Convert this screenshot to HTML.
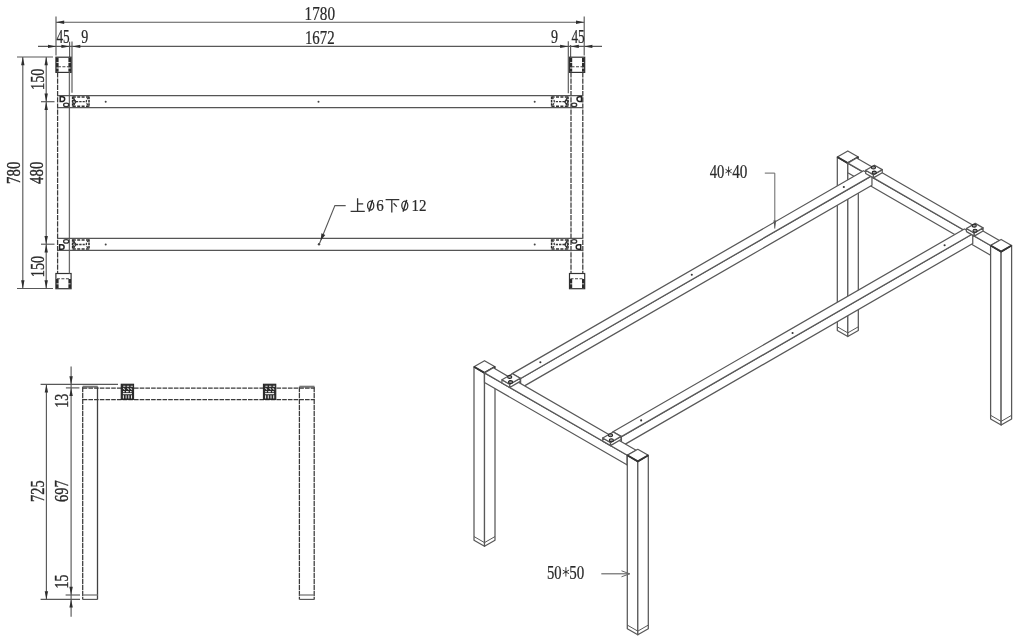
<!DOCTYPE html>
<html><head><meta charset="utf-8"><style>
html,body{margin:0;padding:0;background:#fff;}
svg{display:block;will-change:transform;}
</style></head><body>
<svg width="1020" height="642" viewBox="0 0 1020 642">
<rect width="1020" height="642" fill="#fff"/>
<line x1="56" y1="16.5" x2="56" y2="55.5" stroke="#585858" stroke-width="1.15"/>
<line x1="584.2" y1="16.5" x2="584.2" y2="55.5" stroke="#585858" stroke-width="1.15"/>
<line x1="69.6" y1="41.7" x2="69.6" y2="57" stroke="#585858" stroke-width="1.15"/>
<line x1="72" y1="41.5" x2="72" y2="92.8" stroke="#585858" stroke-width="1.15"/>
<line x1="568.3" y1="41.3" x2="568.3" y2="93.3" stroke="#585858" stroke-width="1.15"/>
<line x1="570.6" y1="45" x2="570.6" y2="57" stroke="#585858" stroke-width="1.15"/>
<line x1="56" y1="22.2" x2="584.2" y2="22.2" stroke="#585858" stroke-width="1.15"/>
<polygon points="56,22.2 64.2,20.5 64.2,23.9" fill="#2e2e2e"/>
<polygon points="584.2,22.2 576,23.9 576,20.5" fill="#2e2e2e"/>
<line x1="38" y1="46.4" x2="602" y2="46.4" stroke="#585858" stroke-width="1.15"/>
<polygon points="56.2,46.4 48,48.1 48,44.7" fill="#2e2e2e"/>
<polygon points="69.6,46.4 61.4,48.1 61.4,44.7" fill="#2e2e2e"/>
<polygon points="72.1,46.4 80.3,44.7 80.3,48.1" fill="#2e2e2e"/>
<polygon points="568.3,46.4 560.1,48.1 560.1,44.7" fill="#2e2e2e"/>
<polygon points="570.6,46.4 578.8,44.7 578.8,48.1" fill="#2e2e2e"/>
<polygon points="584.2,46.4 592.4,44.7 592.4,48.1" fill="#2e2e2e"/>
<text x="304.6" y="19.9" font-family="Liberation Serif" font-size="19" fill="#2a2a2a" stroke="#2a2a2a" stroke-width="0.22" textLength="30.4" lengthAdjust="spacingAndGlyphs">1780</text>
<text x="304.9" y="44.1" font-family="Liberation Serif" font-size="19" fill="#2a2a2a" stroke="#2a2a2a" stroke-width="0.22" textLength="29.8" lengthAdjust="spacingAndGlyphs">1672</text>
<text x="56.4" y="43.2" font-family="Liberation Serif" font-size="19" fill="#2a2a2a" stroke="#2a2a2a" stroke-width="0.22" textLength="13.2" lengthAdjust="spacingAndGlyphs">45</text>
<text x="81.3" y="43.2" font-family="Liberation Serif" font-size="19" fill="#2a2a2a" stroke="#2a2a2a" stroke-width="0.22" textLength="7" lengthAdjust="spacingAndGlyphs">9</text>
<text x="551" y="43.3" font-family="Liberation Serif" font-size="19" fill="#2a2a2a" stroke="#2a2a2a" stroke-width="0.22" textLength="7" lengthAdjust="spacingAndGlyphs">9</text>
<text x="571.4" y="43.3" font-family="Liberation Serif" font-size="19" fill="#2a2a2a" stroke="#2a2a2a" stroke-width="0.22" textLength="13.2" lengthAdjust="spacingAndGlyphs">45</text>
<line x1="17" y1="57" x2="53" y2="57" stroke="#585858" stroke-width="1.15"/>
<line x1="17" y1="288.5" x2="53" y2="288.5" stroke="#585858" stroke-width="1.15"/>
<line x1="41" y1="101.7" x2="54.5" y2="101.7" stroke="#585858" stroke-width="1.15"/>
<line x1="41" y1="244.2" x2="54.5" y2="244.2" stroke="#585858" stroke-width="1.15"/>
<line x1="22.8" y1="57" x2="22.8" y2="288.5" stroke="#585858" stroke-width="1.15"/>
<polygon points="22.8,57 24.5,65.2 21.1,65.2" fill="#2e2e2e"/>
<polygon points="22.8,288.5 21.1,280.3 24.5,280.3" fill="#2e2e2e"/>
<line x1="46.2" y1="57" x2="46.2" y2="288.5" stroke="#585858" stroke-width="1.15"/>
<polygon points="46.2,57 47.9,65.2 44.5,65.2" fill="#2e2e2e"/>
<polygon points="46.2,101.7 44.5,93.5 47.9,93.5" fill="#2e2e2e"/>
<polygon points="46.2,101.7 47.9,109.9 44.5,109.9" fill="#2e2e2e"/>
<polygon points="46.2,244.2 44.5,236 47.9,236" fill="#2e2e2e"/>
<polygon points="46.2,244.2 47.9,252.4 44.5,252.4" fill="#2e2e2e"/>
<polygon points="46.2,288.5 44.5,280.3 47.9,280.3" fill="#2e2e2e"/>
<g transform="translate(13.8 172.8) rotate(-90)"><text x="-11.1" y="6.47" font-family="Liberation Serif" font-size="19.6" fill="#2a2a2a" stroke="#2a2a2a" stroke-width="0.38" textLength="22.2" lengthAdjust="spacingAndGlyphs">780</text></g>
<g transform="translate(36.9 172.8) rotate(-90)"><text x="-11.1" y="6.47" font-family="Liberation Serif" font-size="19.6" fill="#2a2a2a" stroke="#2a2a2a" stroke-width="0.38" textLength="22.2" lengthAdjust="spacingAndGlyphs">480</text></g>
<g transform="translate(37.3 79.3) rotate(-90)"><text x="-10.65" y="6.47" font-family="Liberation Serif" font-size="19.6" fill="#2a2a2a" stroke="#2a2a2a" stroke-width="0.38" textLength="21.3" lengthAdjust="spacingAndGlyphs">150</text></g>
<g transform="translate(37.2 266.5) rotate(-90)"><text x="-10.65" y="6.47" font-family="Liberation Serif" font-size="19.6" fill="#2a2a2a" stroke="#2a2a2a" stroke-width="0.38" textLength="21.3" lengthAdjust="spacingAndGlyphs">150</text></g>
<rect x="55.9" y="57.2" width="15.2" height="15.2" fill="none" stroke="#333" stroke-width="1.2"/>
<path d="M57.3,57.8 V71.8 M69.7,57.8 V71.8" stroke="#2a2a2a" stroke-width="2.6" stroke-dasharray="4.4,0.9" fill="none"/>
<line x1="57.9" y1="66.7" x2="69.1" y2="66.7" stroke="#444" stroke-width="1.1" stroke-dasharray="3,1.5"/>
<rect x="55.9" y="273.5" width="15.2" height="15.2" fill="none" stroke="#333" stroke-width="1.2"/>
<path d="M57.3,279 V288.1 M69.7,279 V288.1" stroke="#2a2a2a" stroke-width="2.6" stroke-dasharray="4.4,0.9" fill="none"/>
<line x1="56.9" y1="278.7" x2="70.1" y2="278.7" stroke="#444" stroke-width="1.1" stroke-dasharray="3,1.5"/>
<rect x="569.5" y="57.2" width="15.2" height="15.2" fill="none" stroke="#333" stroke-width="1.2"/>
<path d="M570.9,57.8 V71.8 M583.3,57.8 V71.8" stroke="#2a2a2a" stroke-width="2.6" stroke-dasharray="4.4,0.9" fill="none"/>
<line x1="571.5" y1="66.7" x2="582.7" y2="66.7" stroke="#444" stroke-width="1.1" stroke-dasharray="3,1.5"/>
<rect x="569.5" y="273.5" width="15.2" height="15.2" fill="none" stroke="#333" stroke-width="1.2"/>
<path d="M570.9,279 V288.1 M583.3,279 V288.1" stroke="#2a2a2a" stroke-width="2.6" stroke-dasharray="4.4,0.9" fill="none"/>
<line x1="570.5" y1="278.7" x2="583.7" y2="278.7" stroke="#444" stroke-width="1.1" stroke-dasharray="3,1.5"/>
<line x1="57.6" y1="72.4" x2="57.6" y2="273.5" stroke="#3a3a3a" stroke-width="1.25" stroke-dasharray="5.2,1"/>
<line x1="571" y1="72.4" x2="571" y2="273.5" stroke="#3a3a3a" stroke-width="1.25" stroke-dasharray="5.2,1"/>
<line x1="582.8" y1="72.4" x2="582.8" y2="273.5" stroke="#3a3a3a" stroke-width="1.25" stroke-dasharray="5.2,1"/>
<line x1="69.4" y1="72.4" x2="69.4" y2="273.5" stroke="#6a6a6a" stroke-width="1.3"/>
<line x1="57.6" y1="95.6" x2="582.7" y2="95.6" stroke="#555" stroke-width="1.2"/>
<line x1="57.6" y1="107.6" x2="582.7" y2="107.6" stroke="#555" stroke-width="1.2"/>
<circle cx="105.7" cy="101.8" r="1" fill="#444"/>
<circle cx="534.7" cy="101.8" r="1" fill="#444"/>
<path d="M72.6,96.4 V107 M89,96.4 V107" stroke="#2a2a2a" stroke-width="1.5" stroke-dasharray="2.6,0.8" fill="none"/>
<path d="M72.8,97.1 H88.8 M72.8,106.2 H88.8" stroke="#333" stroke-width="1.5" stroke-dasharray="3,1.4" fill="none"/>
<path d="M72.8,97.4 Q77.3,101.7 72.8,106 M88.8,97.4 Q83.8,101.7 88.8,106 M75.8,101.7 H84.8" stroke="#3a3a3a" stroke-width="1.3" stroke-dasharray="2.4,1" fill="none"/>
<path d="M72.4,101.7 l1.8,-2.6 l1.8,2.6 l-1.8,2.6 z" fill="none" stroke="#333" stroke-width="1.1"/>
<path d="M568,96.4 V107 M551.6,96.4 V107" stroke="#2a2a2a" stroke-width="1.5" stroke-dasharray="2.6,0.8" fill="none"/>
<path d="M567.8,97.1 H551.8 M567.8,106.2 H551.8" stroke="#333" stroke-width="1.5" stroke-dasharray="3,1.4" fill="none"/>
<path d="M567.8,97.4 Q563.3,101.7 567.8,106 M551.8,97.4 Q556.8,101.7 551.8,106 M564.8,101.7 H555.8" stroke="#3a3a3a" stroke-width="1.3" stroke-dasharray="2.4,1" fill="none"/>
<path d="M564.6,101.7 l1.8,-2.6 l1.8,2.6 l-1.8,2.6 z" fill="none" stroke="#333" stroke-width="1.1"/>
<line x1="57.6" y1="238.4" x2="582.7" y2="238.4" stroke="#555" stroke-width="1.2"/>
<line x1="57.6" y1="250.4" x2="582.7" y2="250.4" stroke="#555" stroke-width="1.2"/>
<circle cx="105.7" cy="244.6" r="1" fill="#444"/>
<circle cx="534.7" cy="244.6" r="1" fill="#444"/>
<path d="M72.6,239.2 V249.8 M89,239.2 V249.8" stroke="#2a2a2a" stroke-width="1.5" stroke-dasharray="2.6,0.8" fill="none"/>
<path d="M72.8,239.9 H88.8 M72.8,249 H88.8" stroke="#333" stroke-width="1.5" stroke-dasharray="3,1.4" fill="none"/>
<path d="M72.8,240.2 Q77.3,244.5 72.8,248.8 M88.8,240.2 Q83.8,244.5 88.8,248.8 M75.8,244.5 H84.8" stroke="#3a3a3a" stroke-width="1.3" stroke-dasharray="2.4,1" fill="none"/>
<path d="M72.4,244.5 l1.8,-2.6 l1.8,2.6 l-1.8,2.6 z" fill="none" stroke="#333" stroke-width="1.1"/>
<path d="M568,239.2 V249.8 M551.6,239.2 V249.8" stroke="#2a2a2a" stroke-width="1.5" stroke-dasharray="2.6,0.8" fill="none"/>
<path d="M567.8,239.9 H551.8 M567.8,249 H551.8" stroke="#333" stroke-width="1.5" stroke-dasharray="3,1.4" fill="none"/>
<path d="M567.8,240.2 Q563.3,244.5 567.8,248.8 M551.8,240.2 Q556.8,244.5 551.8,248.8 M564.8,244.5 H555.8" stroke="#3a3a3a" stroke-width="1.3" stroke-dasharray="2.4,1" fill="none"/>
<path d="M564.6,244.5 l1.8,-2.6 l1.8,2.6 l-1.8,2.6 z" fill="none" stroke="#333" stroke-width="1.1"/>
<path d="M60.2,96.8 h2.2 a2.3,2.3 0 0 1 0,4.6 h-2.2 z" fill="none" stroke="#222" stroke-width="1.5"/>
<ellipse cx="66.2" cy="104.9" rx="2.6" ry="1.7" fill="none" stroke="#333" stroke-width="1.3"/>
<path d="M581.5,96.8 h-2.2 a2.3,2.3 0 0 0 0,4.6 h2.2 z" fill="none" stroke="#222" stroke-width="1.5"/>
<ellipse cx="574.1" cy="104.9" rx="2.6" ry="1.7" fill="none" stroke="#333" stroke-width="1.3"/>
<ellipse cx="66.2" cy="241.4" rx="2.6" ry="1.7" fill="none" stroke="#333" stroke-width="1.3"/>
<path d="M59.6,244.7 h2.2 a2.3,2.3 0 0 1 0,4.6 h-2.2 z" fill="none" stroke="#222" stroke-width="1.5"/>
<ellipse cx="574.1" cy="241.4" rx="2.6" ry="1.7" fill="none" stroke="#333" stroke-width="1.3"/>
<path d="M580.7,244.7 h-2.2 a2.3,2.3 0 0 0 0,4.6 h2.2 z" fill="none" stroke="#222" stroke-width="1.5"/>
<circle cx="318.5" cy="101.8" r="1" fill="#444"/>
<circle cx="319" cy="244.3" r="1.2" fill="#444"/>
<polyline points="319.2,244.2 334.9,205.6 345.7,205.6" fill="none" stroke="#585858" stroke-width="1.1"/>
<polygon points="320.7,240.6 321.39,233.33 325.28,234.91" fill="#2e2e2e"/>
<path d="M357.6,198.3 V211.3 M357.6,203.9 H363.2 M350.6,211.3 H364.8" fill="none" stroke="#333" stroke-width="1.3"/>
<path d="M385.6,199.6 H399.3 M391.8,199.6 V212.6 M393.6,203.2 L396.8,206.6" fill="none" stroke="#333" stroke-width="1.3"/>
<ellipse cx="370.7" cy="205.6" rx="3.1" ry="4.4" fill="none" stroke="#2a2a2a" stroke-width="1.25"/><path d="M369,211.6 L372.6,199.9" stroke="#2a2a2a" stroke-width="1.5"/>
<text x="376.3" y="210.8" font-family="Liberation Serif" font-size="16.6" fill="#2a2a2a" stroke="#2a2a2a" stroke-width="0.22" textLength="7.5" lengthAdjust="spacingAndGlyphs">6</text>
<ellipse cx="404.8" cy="205.6" rx="3.0" ry="4.4" fill="none" stroke="#2a2a2a" stroke-width="1.25"/><path d="M403.1,211.6 L406.7,199.9" stroke="#2a2a2a" stroke-width="1.5"/>
<text x="411.4" y="210.8" font-family="Liberation Serif" font-size="16.6" fill="#2a2a2a" stroke="#2a2a2a" stroke-width="0.22" textLength="15" lengthAdjust="spacingAndGlyphs">12</text>
<line x1="40.6" y1="384.4" x2="118" y2="384.4" stroke="#585858" stroke-width="1.15"/>
<line x1="65.9" y1="387.9" x2="79.4" y2="387.9" stroke="#585858" stroke-width="1.15"/>
<line x1="40.6" y1="599.4" x2="80" y2="599.4" stroke="#585858" stroke-width="1.15"/>
<line x1="65.6" y1="595" x2="80" y2="595" stroke="#585858" stroke-width="1.15"/>
<line x1="46.4" y1="384.4" x2="46.4" y2="599.4" stroke="#585858" stroke-width="1.15"/>
<polygon points="46.4,384.4 48.1,392.6 44.7,392.6" fill="#2e2e2e"/>
<polygon points="46.4,599.4 44.7,591.2 48.1,591.2" fill="#2e2e2e"/>
<line x1="71.1" y1="366.6" x2="71.1" y2="616.7" stroke="#585858" stroke-width="1.15"/>
<polygon points="71.1,384.4 69.4,376.2 72.8,376.2" fill="#2e2e2e"/>
<polygon points="71.1,387.9 72.8,396.1 69.4,396.1" fill="#2e2e2e"/>
<polygon points="71.1,595 69.4,586.8 72.8,586.8" fill="#2e2e2e"/>
<polygon points="71.1,599.4 72.8,607.6 69.4,607.6" fill="#2e2e2e"/>
<g transform="translate(62 400.8) rotate(-90)"><text x="-7" y="6.47" font-family="Liberation Serif" font-size="19.6" fill="#2a2a2a" stroke="#2a2a2a" stroke-width="0.38" textLength="14" lengthAdjust="spacingAndGlyphs">13</text></g>
<g transform="translate(37.1 491.2) rotate(-90)"><text x="-10.75" y="6.47" font-family="Liberation Serif" font-size="19.6" fill="#2a2a2a" stroke="#2a2a2a" stroke-width="0.38" textLength="21.5" lengthAdjust="spacingAndGlyphs">725</text></g>
<g transform="translate(62 491.2) rotate(-90)"><text x="-10.75" y="6.47" font-family="Liberation Serif" font-size="19.6" fill="#2a2a2a" stroke="#2a2a2a" stroke-width="0.38" textLength="21.5" lengthAdjust="spacingAndGlyphs">697</text></g>
<g transform="translate(62 581.5) rotate(-90)"><text x="-6.9" y="6.47" font-family="Liberation Serif" font-size="19.6" fill="#2a2a2a" stroke="#2a2a2a" stroke-width="0.38" textLength="13.8" lengthAdjust="spacingAndGlyphs">15</text></g>
<line x1="82.7" y1="386.7" x2="82.7" y2="599.4" stroke="#3a3a3a" stroke-width="1.25" stroke-dasharray="5.2,0.8"/>
<line x1="97.5" y1="386.7" x2="97.5" y2="599.4" stroke="#404040" stroke-width="1.3"/>
<line x1="82.7" y1="386.7" x2="97.7" y2="386.7" stroke="#777" stroke-width="2"/>
<line x1="82.7" y1="599.4" x2="97.7" y2="599.4" stroke="#585858" stroke-width="1.15"/>
<line x1="82.7" y1="595" x2="97.7" y2="595" stroke="#777" stroke-width="1.3"/>
<line x1="299.4" y1="386.7" x2="299.4" y2="599.4" stroke="#3a3a3a" stroke-width="1.25" stroke-dasharray="5.2,0.8"/>
<line x1="314.2" y1="386.7" x2="314.2" y2="599.4" stroke="#3a3a3a" stroke-width="1.25" stroke-dasharray="5.2,0.8"/>
<line x1="299.4" y1="386.7" x2="314.4" y2="386.7" stroke="#777" stroke-width="2"/>
<line x1="299.4" y1="599.4" x2="314.4" y2="599.4" stroke="#585858" stroke-width="1.15"/>
<line x1="299.4" y1="595" x2="314.4" y2="595" stroke="#777" stroke-width="1.3"/>
<line x1="82.7" y1="388.1" x2="314.4" y2="388.1" stroke="#3a3a3a" stroke-width="1.1" stroke-dasharray="4.6,1.1"/>
<line x1="82.7" y1="399.6" x2="314.4" y2="399.6" stroke="#3a3a3a" stroke-width="1.1" stroke-dasharray="4.6,1.1"/>
<rect x="121.2" y="384.2" width="12.4" height="15.2" fill="#2a2a2a" stroke="#222" stroke-width="1"/>
<path d="M123.2,386.3 h2.2 m1.4,0 h2.4 m1.4,0 h2.2 M123.2,388.2 l1.6,1.4 m2.6,-1.4 l1.6,1.4 m1.4,-1.4 l1.6,1.4 M123,391.6 h1.6 m1.4,0 h2.6 m1.4,0 h1.6 M122.9,393.6 h9 M123.4,395.2 v3.2 m2.7,-3.2 v3.2 m2.7,-3.2 v3.2 m2.7,-3.2 v3.2" stroke="#e8e8e8" stroke-width="1.05" fill="none"/>
<rect x="263.4" y="384.2" width="12.4" height="15.2" fill="#2a2a2a" stroke="#222" stroke-width="1"/>
<path d="M265.4,386.3 h2.2 m1.4,0 h2.4 m1.4,0 h2.2 M265.4,388.2 l1.6,1.4 m2.6,-1.4 l1.6,1.4 m1.4,-1.4 l1.6,1.4 M265.2,391.6 h1.6 m1.4,0 h2.6 m1.4,0 h1.6 M265.1,393.6 h9 M265.6,395.2 v3.2 m2.7,-3.2 v3.2 m2.7,-3.2 v3.2 m2.7,-3.2 v3.2" stroke="#e8e8e8" stroke-width="1.05" fill="none"/>
<polygon points="837.31,157.05 847.81,163.11 847.81,336.5 837.31,330.44" fill="#fff" stroke="#585858" stroke-width="1.25" stroke-linejoin="round"/>
<polygon points="847.81,163.11 858.31,157.05 858.31,330.44 847.81,336.5" fill="#fff" stroke="#585858" stroke-width="1.25" stroke-linejoin="round"/>
<polygon points="837.31,157.05 847.81,150.99 858.31,157.05 847.81,163.11" fill="#fff" stroke="#585858" stroke-width="1.25" stroke-linejoin="round"/>
<polyline points="837.31,326.8 847.81,332.86 858.31,326.8" fill="none" stroke="#585858" stroke-width="1"/>
<polyline points="837.31,157.05 847.81,163.11 858.31,157.05" fill="none" stroke="#333" stroke-width="1.8"/>
<polygon points="847.81,163.11 990.61,245.56 990.61,255.26 847.81,172.81" fill="#fff" stroke="#585858" stroke-width="1.25" stroke-linejoin="round"/>
<polygon points="990.61,245.56 999.43,240.47 999.43,250.17 990.61,255.26" fill="#fff" stroke="#585858" stroke-width="1.25" stroke-linejoin="round"/>
<polygon points="847.81,163.11 856.63,158.02 999.43,240.47 990.61,245.56" fill="#fff" stroke="#585858" stroke-width="1.25" stroke-linejoin="round"/>
<polygon points="512.22,373.6 520.62,378.45 520.62,388.15 512.22,383.3" fill="#fff" stroke="#585858" stroke-width="1.25" stroke-linejoin="round"/>
<polygon points="520.62,378.45 871.96,175.6 871.96,185.3 520.62,388.15" fill="#fff" stroke="#585858" stroke-width="1.25" stroke-linejoin="round"/>
<polygon points="512.22,373.6 863.56,170.75 871.96,175.6 520.62,378.45" fill="#fff" stroke="#585858" stroke-width="1.25" stroke-linejoin="round"/>
<polygon points="990.61,245.56 1001.11,251.63 1001.11,425.01 990.61,418.95" fill="#fff" stroke="#585858" stroke-width="1.25" stroke-linejoin="round"/>
<polygon points="1001.11,251.63 1011.61,245.56 1011.61,418.95 1001.11,425.01" fill="#fff" stroke="#585858" stroke-width="1.25" stroke-linejoin="round"/>
<polygon points="990.61,245.56 1001.11,239.5 1011.61,245.56 1001.11,251.63" fill="#fff" stroke="#585858" stroke-width="1.25" stroke-linejoin="round"/>
<polyline points="990.61,415.31 1001.11,421.38 1011.61,415.31" fill="none" stroke="#585858" stroke-width="1"/>
<polyline points="990.61,245.56 1001.11,251.63 1011.61,245.56" fill="none" stroke="#333" stroke-width="1.8"/>
<polygon points="613.02,431.8 621.42,436.65 621.42,446.35 613.02,441.5" fill="#fff" stroke="#585858" stroke-width="1.25" stroke-linejoin="round"/>
<polygon points="621.42,436.65 972.76,233.8 972.76,243.5 621.42,446.35" fill="#fff" stroke="#585858" stroke-width="1.25" stroke-linejoin="round"/>
<polygon points="613.02,431.8 964.36,228.95 972.76,233.8 621.42,436.65" fill="#fff" stroke="#585858" stroke-width="1.25" stroke-linejoin="round"/>
<polygon points="865.66,170.27 873.43,174.75 873.43,177.91 865.66,173.42" fill="#fff" stroke="#585858" stroke-width="1.25" stroke-linejoin="round"/>
<polygon points="873.43,174.75 882.25,169.66 882.25,172.81 873.43,177.91" fill="#fff" stroke="#585858" stroke-width="1.25" stroke-linejoin="round"/>
<polygon points="865.66,170.27 874.48,165.17 882.25,169.66 873.43,174.75" fill="#fff" stroke="#585858" stroke-width="1.25" stroke-linejoin="round"/>
<ellipse cx="873.43" cy="167.48" rx="2.1" ry="1.45" fill="#9a9a9a" stroke="#222" stroke-width="1.05"/>
<ellipse cx="874.27" cy="172.57" rx="2.1" ry="1.45" fill="#9a9a9a" stroke="#222" stroke-width="1.05"/>
<polygon points="966.46,228.47 974.23,232.95 974.23,236.11 966.46,231.62" fill="#fff" stroke="#585858" stroke-width="1.25" stroke-linejoin="round"/>
<polygon points="974.23,232.95 983.05,227.86 983.05,231.01 974.23,236.11" fill="#fff" stroke="#585858" stroke-width="1.25" stroke-linejoin="round"/>
<polygon points="966.46,228.47 975.28,223.37 983.05,227.86 974.23,232.95" fill="#fff" stroke="#585858" stroke-width="1.25" stroke-linejoin="round"/>
<ellipse cx="974.23" cy="225.68" rx="2.1" ry="1.45" fill="#9a9a9a" stroke="#222" stroke-width="1.05"/>
<ellipse cx="975.07" cy="230.77" rx="2.1" ry="1.45" fill="#9a9a9a" stroke="#222" stroke-width="1.05"/>
<polygon points="474,366.81 484.5,372.88 484.5,546.26 474,540.2" fill="#fff" stroke="#585858" stroke-width="1.25" stroke-linejoin="round"/>
<polygon points="484.5,372.88 495,366.81 495,540.2 484.5,546.26" fill="#fff" stroke="#585858" stroke-width="1.25" stroke-linejoin="round"/>
<polygon points="474,366.81 484.5,360.75 495,366.81 484.5,372.88" fill="#fff" stroke="#585858" stroke-width="1.25" stroke-linejoin="round"/>
<polyline points="474,536.56 484.5,542.62 495,536.56" fill="none" stroke="#585858" stroke-width="1"/>
<polyline points="474,366.81 484.5,372.88 495,366.81" fill="none" stroke="#333" stroke-width="1.8"/>
<polygon points="484.5,372.88 627.3,455.33 627.3,465.03 484.5,382.58" fill="#fff" stroke="#585858" stroke-width="1.25" stroke-linejoin="round"/>
<polygon points="627.3,455.33 636.12,450.23 636.12,459.93 627.3,465.03" fill="#fff" stroke="#585858" stroke-width="1.25" stroke-linejoin="round"/>
<polygon points="484.5,372.88 493.32,367.78 636.12,450.23 627.3,455.33" fill="#fff" stroke="#585858" stroke-width="1.25" stroke-linejoin="round"/>
<polygon points="501.93,379.79 509.7,384.27 509.7,387.43 501.93,382.94" fill="#fff" stroke="#585858" stroke-width="1.25" stroke-linejoin="round"/>
<polygon points="509.7,384.27 520.2,378.21 520.2,381.36 509.7,387.43" fill="#fff" stroke="#585858" stroke-width="1.25" stroke-linejoin="round"/>
<polygon points="501.93,379.79 512.43,373.72 520.2,378.21 509.7,384.27" fill="#fff" stroke="#585858" stroke-width="1.25" stroke-linejoin="round"/>
<ellipse cx="509.7" cy="377" rx="2.1" ry="1.45" fill="#9a9a9a" stroke="#222" stroke-width="1.05"/>
<ellipse cx="510.54" cy="382.09" rx="2.1" ry="1.45" fill="#9a9a9a" stroke="#222" stroke-width="1.05"/>
<polygon points="602.73,437.99 610.5,442.47 610.5,445.63 602.73,441.14" fill="#fff" stroke="#585858" stroke-width="1.25" stroke-linejoin="round"/>
<polygon points="610.5,442.47 621,436.41 621,439.56 610.5,445.63" fill="#fff" stroke="#585858" stroke-width="1.25" stroke-linejoin="round"/>
<polygon points="602.73,437.99 613.23,431.92 621,436.41 610.5,442.47" fill="#fff" stroke="#585858" stroke-width="1.25" stroke-linejoin="round"/>
<ellipse cx="610.5" cy="435.2" rx="2.1" ry="1.45" fill="#9a9a9a" stroke="#222" stroke-width="1.05"/>
<ellipse cx="611.34" cy="440.29" rx="2.1" ry="1.45" fill="#9a9a9a" stroke="#222" stroke-width="1.05"/>
<polygon points="627.3,455.33 637.8,461.39 637.8,634.78 627.3,628.71" fill="#fff" stroke="#585858" stroke-width="1.25" stroke-linejoin="round"/>
<polygon points="637.8,461.39 648.3,455.33 648.3,628.71 637.8,634.78" fill="#fff" stroke="#585858" stroke-width="1.25" stroke-linejoin="round"/>
<polygon points="627.3,455.33 637.8,449.26 648.3,455.33 637.8,461.39" fill="#fff" stroke="#585858" stroke-width="1.25" stroke-linejoin="round"/>
<polyline points="627.3,625.08 637.8,631.14 648.3,625.08" fill="none" stroke="#585858" stroke-width="1"/>
<polyline points="627.3,455.33 637.8,461.39 648.3,455.33" fill="none" stroke="#333" stroke-width="1.8"/>
<circle cx="540.36" cy="362.2" r="1.05" fill="#333"/>
<circle cx="691.78" cy="274.78" r="1.05" fill="#333"/>
<circle cx="843.82" cy="187" r="1.05" fill="#333"/>
<circle cx="641.16" cy="420.41" r="1.05" fill="#333"/>
<circle cx="792.58" cy="332.98" r="1.05" fill="#333"/>
<circle cx="944.62" cy="245.2" r="1.05" fill="#333"/>
<text x="709.7" y="178" font-family="Liberation Serif" font-size="19" fill="#2a2a2a" stroke="#2a2a2a" stroke-width="0.22" textLength="14.6" lengthAdjust="spacingAndGlyphs">40</text>
<text x="732.2" y="178" font-family="Liberation Serif" font-size="19" fill="#2a2a2a" stroke="#2a2a2a" stroke-width="0.22" textLength="15.2" lengthAdjust="spacingAndGlyphs">40</text>
<path d="M728.6,166.5 L728.6,175.7 M725.49,169.31 L731.71,172.89 M725.49,172.89 L731.71,169.31 " stroke="#333" stroke-width="0.95" fill="none"/>
<circle cx="728.6" cy="171.1" r="0.9" fill="#333"/>
<polyline points="764.8,173.1 774.8,173.1 774.8,228.6" fill="none" stroke="#666" stroke-width="1"/>
<polygon points="774.8,228.6 773.4,220.6 776.2,220.6" fill="#555"/>
<text x="546.9" y="578.8" font-family="Liberation Serif" font-size="19" fill="#2a2a2a" stroke="#2a2a2a" stroke-width="0.22" textLength="14.6" lengthAdjust="spacingAndGlyphs">50</text>
<text x="569.2" y="578.8" font-family="Liberation Serif" font-size="19" fill="#2a2a2a" stroke="#2a2a2a" stroke-width="0.22" textLength="15" lengthAdjust="spacingAndGlyphs">50</text>
<path d="M565.9,567.2 L565.9,576.6 M562.73,570.07 L569.07,573.73 M562.73,573.73 L569.07,570.07 " stroke="#333" stroke-width="0.95" fill="none"/>
<circle cx="565.9" cy="571.9" r="0.9" fill="#333"/>
<line x1="601.3" y1="573.8" x2="629.7" y2="573.8" stroke="#666" stroke-width="1.15"/>
<polyline points="621.5,570.8 629.7,573.8 621.5,576.8" fill="none" stroke="#666" stroke-width="1"/>
</svg>
</body></html>
